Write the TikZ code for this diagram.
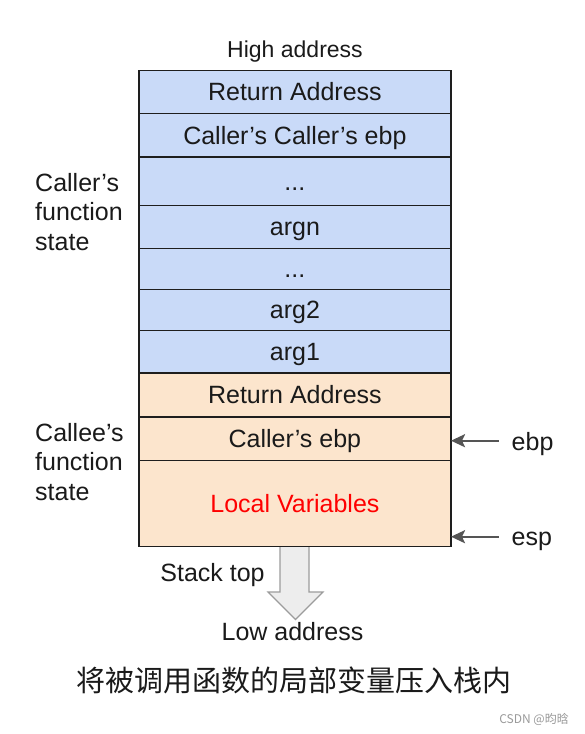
\documentclass[tikz,border=0pt]{standalone}
\usepackage{fontspec}
\setmainfont{Liberation Sans}
\newfontfamily\cjk{Noto Sans CJK SC}
\usetikzlibrary{arrows.meta}
\definecolor{callerblue}{HTML}{C9DAF8}
\definecolor{calleeorange}{HTML}{FCE5CD}
\definecolor{edgecol}{HTML}{1E1E1E}
\definecolor{ptrgray}{HTML}{555555}
\definecolor{wmgray}{HTML}{9A9A9A}
\definecolor{arrowfill}{HTML}{EDEDED}
\definecolor{arrowedge}{HTML}{9C9C9C}
\definecolor{txt}{HTML}{1A1A1A}
\begin{document}
\begin{tikzpicture}[x=1pt,y=-1pt,
  cell/.style={draw=edgecol,line width=1.8pt,anchor=north west,minimum width=312pt,
    inner sep=0pt,text height=18pt,text depth=0pt,text=txt,
    font=\fontsize{25}{30}\selectfont},
  callercell/.style={cell,fill=callerblue},
  calleecell/.style={cell,fill=calleeorange},
  side/.style={font=\fontsize{25}{29.5}\selectfont,align=left,inner sep=0pt,anchor=west,text=txt},
  plain/.style={font=\fontsize{25}{30}\selectfont,inner sep=0pt,text=txt},
  ptr/.style={draw=ptrgray,line width=2.4pt,-{Stealth[length=14pt,width=13pt,inset=3pt]}}]
\useasboundingbox (0,0) rectangle (584,734);
\fill[white] (0,0) rectangle (584,734);

% stack cells
\node[callercell,minimum height=43pt]   (r1)  at (138,69.5)  {Return Address};
\node[callercell,minimum height=43.5pt] (r2)  at (138,112.5) {Caller’s Caller’s ebp};
\node[callercell,minimum height=48.5pt] (r3)  at (138,156)   {...};
\node[callercell,minimum height=43pt]   (r4)  at (138,204.5) {argn};
\node[callercell,minimum height=41pt]   (r5)  at (138,247.5) {...};
\node[callercell,minimum height=41pt]   (r6)  at (138,288.5) {arg2};
\node[callercell,minimum height=42.5pt] (r7)  at (138,329.5) {arg1};
\node[calleecell,minimum height=44pt]   (r8)  at (138,372)   {Return Address};
\node[calleecell,minimum height=43.5pt] (r9)  at (138,416)   {Caller’s ebp};
\node[calleecell,minimum height=86pt,text=red] (r10) at (138,459.5) {Local Variables};

% labels
\node[plain,font=\fontsize{23}{28}\selectfont,anchor=base] (high) at (295,57.5) {High address};
\node[side] (callerlbl) at (35,212) {Caller’s\\function\\state};
\node[side] (calleelbl) at (35,462) {Callee’s\\function\\state};

% pointers
\node[plain,anchor=base west] (ebp) at (511.5,450) {ebp};
\node[plain,anchor=base west] (esp) at (511.5,545) {esp};
\coordinate (ebpin) at (451,440.7);
\coordinate (espin) at (451,536.7);
\draw[ptr] (ebp.west |- ebpin) ++(-13,0) -- (ebpin);
\draw[ptr] (esp.west |- espin) ++(-13,0) -- (espin);

% growth arrow
\draw[fill=arrowfill,draw=arrowedge,line width=1.2pt,line join=miter]
  (280,547) -- (280,592) -- (268,592) -- (295.5,619.5) -- (323,592) -- (309,592) -- (309,547);
\node[plain,anchor=base] (stacktop) at (212.5,581.7) {Stack top};
\node[plain,anchor=base] (low) at (292.5,640) {Low address};

% caption and watermark
\node[inner sep=0pt,anchor=base,font=\cjk\fontsize{29}{34}\selectfont,text=txt] (caption) at (294.2,691) {将被调用函数的局部变量压入栈内};
\node[inner sep=0pt,anchor=base east,font=\cjk\fontsize{12}{14}\selectfont,text=wmgray] (wm) at (569,723) {CSDN @昀晗};
\end{tikzpicture}
\end{document}
